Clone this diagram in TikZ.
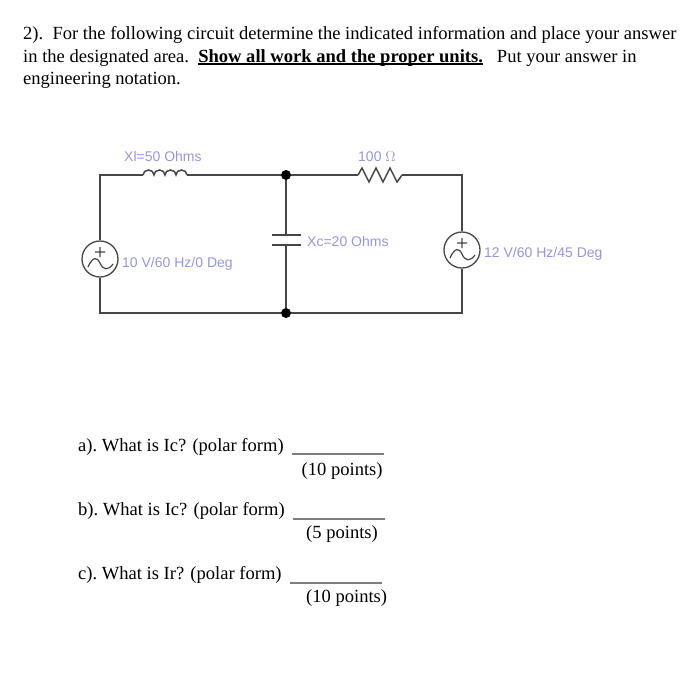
\documentclass[tikz,border=0pt]{standalone}
\usepackage{fontspec}
\setmainfont{Liberation Serif}
\newfontfamily\labelfont{Liberation Sans}
\usetikzlibrary{positioning}
\definecolor{wirecol}{RGB}{70,70,70}
\definecolor{labelcol}{RGB}{150,150,215}
\definecolor{rulecol}{RGB}{125,125,125}
\newcommand{\boldul}[1]{\setbox0\hbox{\textbf{#1}}\rlap{\rule[-3pt]{\wd0}{1.6pt}}\box0}
\tikzset{
	wire/.style={draw=wirecol, line width=1.5pt},
	junction/.style={circle, fill=black, inner sep=0pt, minimum size=10pt},
	acsource/.style={draw=wirecol, line width=1.3pt, circle, inner sep=0pt, minimum size=36pt,
		path picture={
			\draw[wirecol, line width=1.2pt, shift={(path picture bounding box.center)}]
				(-12,8) .. controls (-7,-3) and (-3,-2) .. (0,4) .. controls (3,11) and (8,12) .. (13,5)
				(0,-12) -- (0,-2) (-5,-7) -- (5,-7);
		}},
	question/.style={anchor=base west, inner sep=0pt, font=\fontsize{18.55}{22}\selectfont},
	cirlabel/.style={anchor=base west, inner sep=0pt, text=labelcol, font=\labelfont\fontsize{14}{16}\selectfont},
	answer/.style={draw=rulecol, line width=1.2pt}
}
\begin{document}
\begin{tikzpicture}[x=1pt, y=-1pt]
	\useasboundingbox (0,0) rectangle (700,673);
	% text above the circuit
	\node[question] (line1) at (23,39) {2).\ \ For the following circuit determine the indicated information and place your answer};
	\node[question] (line2) at (23,62) {in the designated area.\ \ \boldul{Show all work and the proper units.}\hspace{14pt}Put your answer in};
	\node[question] (line3) at (23,84) {engineering notation.};

	% circuit
	\node[acsource] (vl) at (100,259) {};
	\node[acsource] (vr) at (462,250) {};
	\node[junction] (top) at (286,175) {};
	\node[junction] (bot) at (286,313) {};
	\coordinate (ls) at (143,175);
	\coordinate (le) at (187,175);
	\coordinate (rs) at (358,175);
	\coordinate (re) at (402,175);
	\coordinate (c1) at (286,235);
	\coordinate (c2) at (286,245);

	\draw[wire] (vl) |- (ls);
	\draw[wire] (ls) arc[start angle=180, end angle=360, x radius=5.5, y radius=5]
		arc[start angle=180, end angle=360, x radius=5.5, y radius=5]
		arc[start angle=180, end angle=360, x radius=5.5, y radius=5]
		arc[start angle=180, end angle=360, x radius=5.5, y radius=5] -- (le);
	\draw[wire] (le) -- (top);
	\draw[wire] (top) -- (rs);
	\draw[wire] (rs) -- ++(4,-7) -- ++(7,14) -- ++(7,-14) -- ++(7,14) -- ++(7,-14) -- ++(7,14) -- (re);
	\draw[wire] (re) -| (vr);
	\draw[wire] (vr) |- (bot);
	\draw[wire] (vl) |- (bot);
	\draw[wire] (top) -- (c1);
	\draw[wire] (c2) -- (bot);
	\draw[wire] ([xshift=-14pt]c1) -- ([xshift=15pt]c1);
	\draw[wire] ([xshift=-14pt]c2) -- ([xshift=15pt]c2);

	\node[cirlabel] (xl) at (124,161) {Xl=50 Ohms};
	\node[cirlabel] (rl) at (358,161) {100 $\Omega$};
	\node[cirlabel] (xc) at (307,246) {Xc=20 Ohms};
	\node[cirlabel] (v1) at (122,267) {10 V/60 Hz/0 Deg};
	\node[cirlabel] (v2) at (484,257) {12 V/60 Hz/45 Deg};

	% questions
	\node[question] (qa) at (78,451) {a).\ What is Ic? (polar form)};
	\node[question] (qb) at (78,515) {b).\ What is Ic? (polar form)};
	\node[question] (qc) at (78,579) {c).\ What is Ir? (polar form)};
	\node[question] (pa) at (301.5,475) {(10 points)};
	\node[question] (pb) at (306,538) {(5 points)};
	\node[question] (pc) at (306,602) {(10 points)};

	\coordinate (a1) at (292,454);
	\coordinate (a2) at (384,454);
	\coordinate (b1) at (293,519);
	\coordinate (b2) at (385,519);
	\coordinate (c3) at (290,583);
	\coordinate (c4) at (382,583);
	\draw[answer] (a1) -- (a2);
	\draw[answer] (b1) -- (b2);
	\draw[answer] (c3) -- (c4);
\end{tikzpicture}
\end{document}
